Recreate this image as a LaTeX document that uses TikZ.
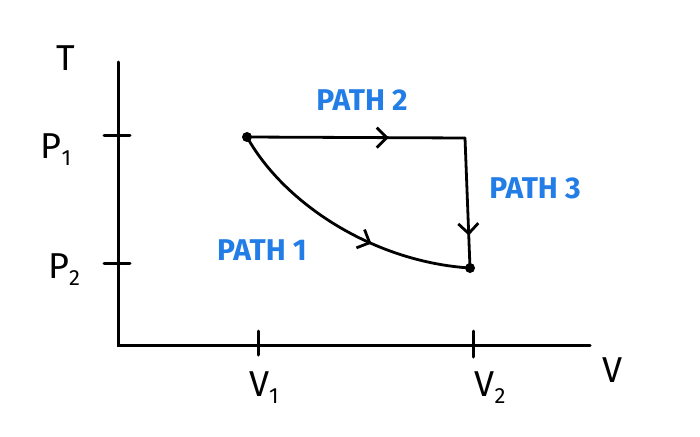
\documentclass[tikz,border=0pt]{standalone}
\usepackage{fontspec}
\setmainfont{Fira Sans}
\usetikzlibrary{arrows.meta,decorations.markings}
\definecolor{lblue}{RGB}{35,125,230}
\newcommand{\sbs}[1]{\raisebox{-7pt}{\fontsize{22}{22}\selectfont #1}}
\tikzset{
  ax/.style={line width=3pt,line cap=round},
  pth/.style={line width=2.8pt,line cap=round},
  lbl/.style={text=lblue,font=\fontsize{30}{30}\selectfont\bfseries},
  axl/.style={font=\fontsize{36}{36}\selectfont},
  mid/.style={postaction={decorate},decoration={markings,mark=at position #1 with {\arrow{Straight Barb[length=10pt,width=20pt,line width=2.8pt]}}}}
}
\begin{document}
\begin{tikzpicture}[x=1pt,y=-1pt]
\useasboundingbox (0,0) rectangle (700,436);
\coordinate (o) at (118,345);
\coordinate (ytop) at (118,62);
\coordinate (xend) at (590,345);
\draw[ax] (ytop) -- (o) -- (xend);
\draw[ax] (104,135) -- (130,135);
\draw[ax] (104,263) -- (130,263);
\draw[ax] (258,331) -- (258,355);
\draw[ax] (473,331) -- (473,357);
\node[axl] (T) at (66,58) {T};
\node[axl] (V) at (612,370) {V};
\node[axl] (p1) at (56,150) {P\sbs{1}};
\node[axl] (p2) at (64,270) {P\sbs{2}};
\node[axl] (v1) at (264,388) {V\sbs{1}};
\node[axl] (v2) at (490,388) {V\sbs{2}};
\coordinate (A) at (247,137);
\coordinate (B) at (465,138);
\coordinate (C) at (470,268);
\fill (A) circle (5pt);
\fill (C) circle (5pt);
\draw[pth,mid=0.65] (A) -- (B);
\draw[pth,mid=0.75] (B) -- (C);
\draw[pth,mid=0.62] (A) .. controls (285,205) and (375,262) .. (C);
\node[lbl] (l2) at (362,100) {PATH 2};
\node[lbl] (l3) at (535,188) {PATH 3};
\node[lbl] (l1) at (262,250) {PATH 1};
\end{tikzpicture}
\end{document}
